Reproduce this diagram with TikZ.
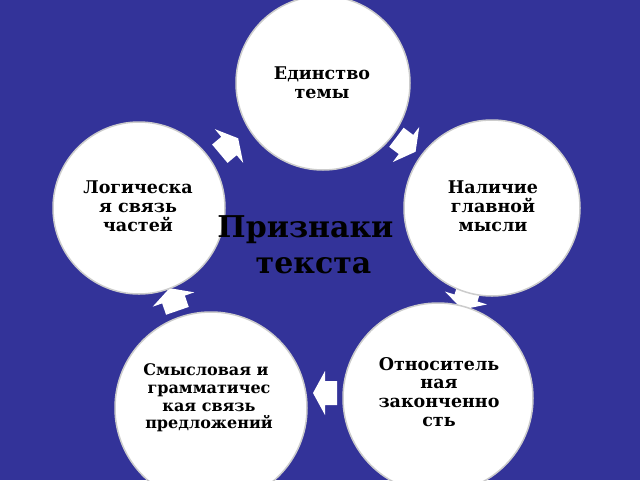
\documentclass[tikz,border=0pt]{standalone}
\usepackage{fontspec}
\setmainfont{DejaVu Serif}
\definecolor{bgblue}{RGB}{51,51,153}
\begin{document}
\begin{tikzpicture}[x=1pt,y=-1pt,
  circ/.style={circle, fill=white, draw=black!20, line width=1.5pt, inner sep=0pt},
  ctext/.style={align=center, font=\bfseries\fontsize{17.5}{18.8}\selectfont, inner sep=0pt, text=black},
  stext/.style={ctext, font=\bfseries\fontsize{16}{17.7}\selectfont},
  ttext/.style={align=center, font=\bfseries\fontsize{30}{36}\selectfont, inner sep=0pt, text=black},
  blockarrow/.pic={\fill[white] (-12,-12) -- (0,-12) -- (0,-22) -- (12,0) -- (0,22) -- (0,12) -- (-12,12) -- cycle;}
]
\useasboundingbox (0,0) rectangle (640,480);
\fill[bgblue] (0,0) rectangle (640,480);
% arrows
\pic[rotate=40] at (229,146) {blockarrow};
\pic[rotate=-37] at (406,144.5) {blockarrow};
\pic[rotate=-107] at (466,298) {blockarrow};
\pic[rotate=180] at (325,393) {blockarrow};
\pic[rotate=109] at (173.5,299.5) {blockarrow};
% circles
\node[circ, minimum size=174pt] (c1) at (323,83) {};
\node[circ, minimum size=176pt] (c2) at (492,208) {};
\node[circ, minimum size=190pt] (c3) at (438,398) {};
\node[circ, minimum size=192pt] (c4) at (211,408) {};
\node[circ, minimum size=172pt] (c5) at (139,208) {};
% texts
\node[ctext] (t1) at (322,83) {Единство\\темы};
\node[ctext] (t2) at (493,206) {Наличие\\главной\\мысли};
\node[ctext] (t3) at (439,392) {Относитель\\ная\\законченно\\сть};
\node[stext] (t4) at (209,398) {Смысловая и\kern6pt\\грамматичес\\кая связь\\предложений};
\node[ctext] (t5) at (138,206) {Логическа\\я связь\\частей};
\node[ttext] (tt) at (309.5,244.5) {Признаки\kern8pt\\\kern8pt текста};
\end{tikzpicture}
\end{document}
